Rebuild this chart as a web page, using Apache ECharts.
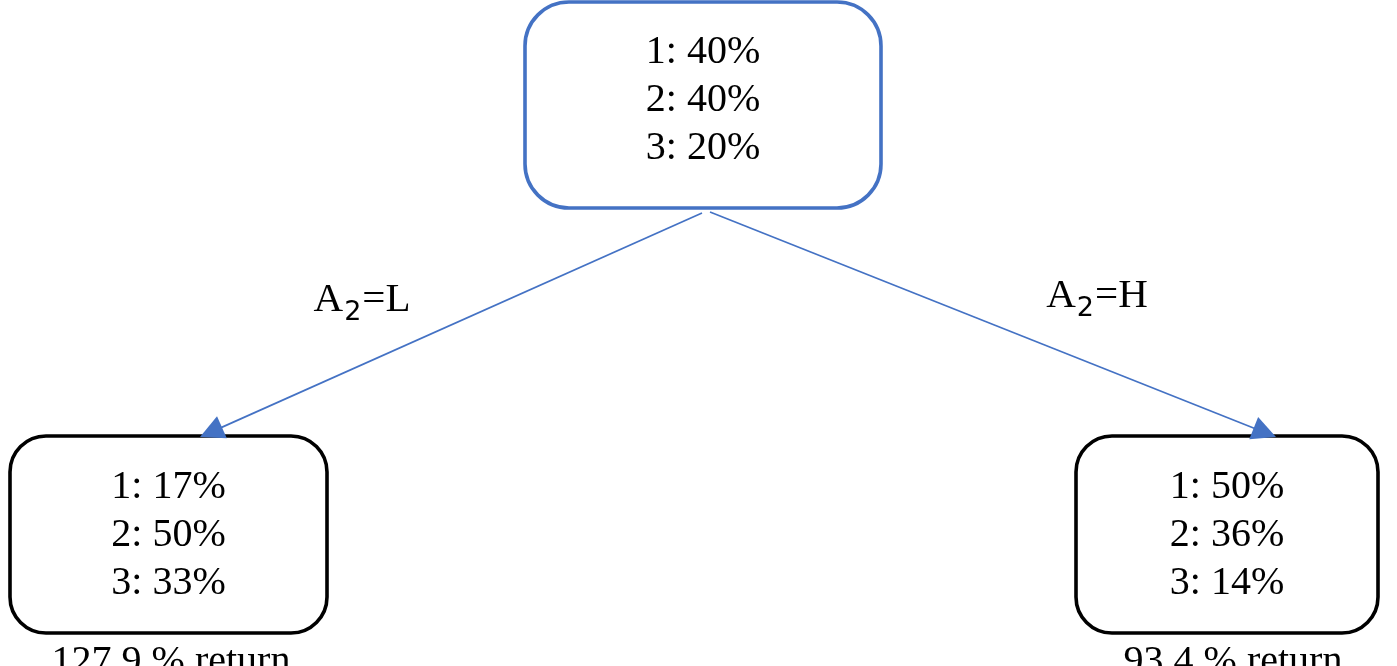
<!DOCTYPE html>
<html>
<head>
<meta charset="utf-8">
<script src="https://cdn.jsdelivr.net/npm/echarts@6/dist/echarts.min.js"></script>
<style>
html,body{margin:0;padding:0;background:#fff;}
#c{width:1397px;height:666px;}
</style>
</head>
<body>
<div id="c"></div>
<script>
// ---- data ----
var states = ['1', '2', '3'];
var priorProbs = [40, 40, 20];
var lowProbs = [17, 50, 33];
var highProbs = [50, 36, 14];
var branchLabels = ['L', 'H'];
var returns = [127.9, 93.4];

// ---- layout (diagram coordinates) ----
var layout = {
  top:   {x0: 525, y0: 2,   x1: 881, y1: 208, r: 44, color: '#4472C4', textY: 100},
  left:  {x0: 10,  y0: 436, x1: 327, y1: 633, r: 36, color: '#000000', textY: 535},
  right: {x0: 1076,y0: 436, x1: 1378,y1: 633, r: 36, color: '#000000', textY: 535}
};
var edges = [
  {from: [702, 213], to: [200, 437], label: [362, 300]},
  {from: [710, 212], to: [1276, 437], label: [1097, 296]}
];
var arrowSize = 24;
var returnPos = [[171, 662], [1233, 662]];

var serif = '"Liberation Serif", "Times New Roman", serif';
var mainFont = '41px ' + serif;
var subFont = '27px "DejaVu Sans", sans-serif';

function probText(p) {
  return states.map(function (s, i) { return s + ': ' + p[i] + '%'; }).join('\n');
}

// pull each line end back by half the arrow so the arrow tip sits on the box edge
function shorten(e) {
  var dx = e.to[0] - e.from[0], dy = e.to[1] - e.from[1];
  var len = Math.sqrt(dx * dx + dy * dy);
  var k = (arrowSize / 2) / len;
  return [e.from, [e.to[0] - dx * k, e.to[1] - dy * k]];
}

var measureCtx = document.createElement('canvas').getContext('2d');
function textWidth(t, font) {
  measureCtx.font = font;
  return measureCtx.measureText(t).width;
}

var boxes = [
  {key: 'top', text: probText(priorProbs)},
  {key: 'left', text: probText(lowProbs)},
  {key: 'right', text: probText(highProbs)}
];

var chart = echarts.init(document.getElementById('c'), null, {renderer: 'canvas'});

chart.setOption({
  animation: false,
  backgroundColor: '#ffffff',
  grid: {left: 0, right: 0, top: 0, bottom: 0},
  xAxis: {type: 'value', min: 0, max: 1397, show: false},
  yAxis: {type: 'value', min: 0, max: 666, inverse: true, show: false},
  series: [
    {
      type: 'custom',
      coordinateSystem: 'cartesian2d',
      z: 2,
      data: boxes.map(function (b, i) { return [i]; }),
      renderItem: function (params, api) {
        var b = boxes[params.dataIndex];
        var L = layout[b.key];
        var p0 = api.coord([L.x0, L.y0]);
        var p1 = api.coord([L.x1, L.y1]);
        var c = api.coord([(L.x0 + L.x1) / 2, L.textY]);
        return {
          type: 'group',
          children: [
            {
              type: 'rect',
              shape: {x: p0[0], y: p0[1], width: p1[0] - p0[0], height: p1[1] - p0[1], r: L.r},
              style: {fill: '#ffffff', stroke: L.color, lineWidth: 3.6}
            },
            {
              type: 'text',
              style: {
                text: b.text, x: c[0], y: c[1],
                align: 'center', verticalAlign: 'middle',
                font: '40px ' + serif, lineHeight: 48, fill: '#000000'
              }
            }
          ]
        };
      }
    },
    {
      type: 'lines',
      coordinateSystem: 'cartesian2d',
      symbol: ['none', 'triangle'],
      symbolSize: arrowSize,
      lineStyle: {color: '#4472C4', width: 1.7, opacity: 1},
      itemStyle: {color: '#4472C4'},
      z: 3,
      data: edges.map(function (e) { return {coords: shorten(e)}; })
    },
    {
      type: 'custom',
      coordinateSystem: 'cartesian2d',
      z: 4,
      data: branchLabels.map(function (l, i) { return [edges[i].label[0], edges[i].label[1]]; }),
      renderItem: function (params, api) {
        var c = api.coord([api.value(0), api.value(1)]);
        var tail = '=' + branchLabels[params.dataIndex];
        var wA = textWidth('A', mainFont);
        var w2 = textWidth('2', subFont) + 2;
        var wT = textWidth(tail, mainFont);
        var x0 = c[0] - (wA + w2 + wT) / 2;
        return {
          type: 'group',
          children: [
            {type: 'text', style: {text: 'A', x: x0, y: c[1], align: 'left', verticalAlign: 'middle', font: mainFont, fill: '#000'}},
            {type: 'text', style: {text: '2', x: x0 + wA + 1, y: c[1] + 13, align: 'left', verticalAlign: 'middle', font: subFont, fill: '#000'}},
            {type: 'text', style: {text: tail, x: x0 + wA + w2, y: c[1], align: 'left', verticalAlign: 'middle', font: mainFont, fill: '#000'}}
          ]
        };
      }
    },
    {
      type: 'custom',
      coordinateSystem: 'cartesian2d',
      z: 4,
      data: returns.map(function (r, i) { return [returnPos[i][0], returnPos[i][1]]; }),
      renderItem: function (params, api) {
        var c = api.coord([api.value(0), api.value(1)]);
        return {
          type: 'text',
          style: {
            text: returns[params.dataIndex].toFixed(1) + ' % return',
            x: c[0], y: c[1], align: 'center', verticalAlign: 'middle',
            font: '40px ' + serif, fill: '#000'
          }
        };
      }
    }
  ]
});
</script>
</body>
</html>
